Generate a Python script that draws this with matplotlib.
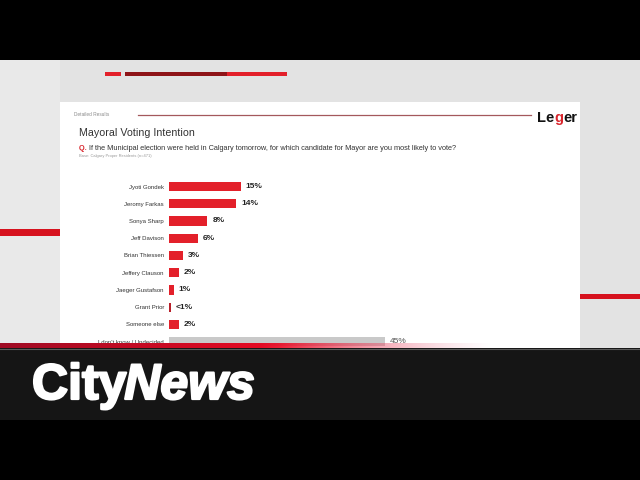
import matplotlib.pyplot as plt
from matplotlib.patches import Rectangle
import matplotlib.patheffects as pe
import numpy as np

# poll data
candidates = ['Jyoti Gondek', 'Jeromy Farkas', 'Sonya Sharp', 'Jeff Davison',
              'Brian Thiessen', 'Jeffery Clauson', 'Jaeger Gustafson',
              'Grant Prior', 'Someone else', "I don't know / Undecided"]
shares = [15, 14, 8, 6, 3, 2, 1, 0.4, 2, 45]
share_labels = ['15%', '14%', '8%', '6%', '3%', '2%', '1%', '<1%', '2%', '45%']

W, H = 640, 480
FONT = 'Liberation Sans'

fig = plt.figure(figsize=(6.4, 4.8), dpi=100, facecolor='black')


def px_axes(zorder):
    a = fig.add_axes([0, 0, 1, 1], zorder=zorder)
    a.set_xlim(0, W)
    a.set_ylim(H, 0)
    a.axis('off')
    a.patch.set_alpha(0)
    return a


def run_text(a, x, y, parts, gap=0, **kw):
    # draw consecutive text pieces on one baseline
    r = fig.canvas.get_renderer()
    for s, col, extra in parts:
        t = a.text(x, y, s, color=col, va='baseline', ha='left', **kw, **extra)
        x = t.get_window_extent(r).x1 + gap
    return x


# ---- background: studio wall + white slide
bg = px_axes(0)
bg.add_patch(Rectangle((0, 60), W, 288, color='#e3e3e3', lw=0))
bg.add_patch(Rectangle((0, 60), 60, 288, color='#e9e9e9', lw=0))
bg.add_patch(Rectangle((60, 102), 520, 246, color='white', lw=0))
# red stripes top
bg.add_patch(Rectangle((105, 72), 16, 4, color='#e3202a', lw=0))
bg.add_patch(Rectangle((125, 72), 102, 4, color='#8e1418', lw=0))
bg.add_patch(Rectangle((227, 72), 60, 4, color='#e3202a', lw=0))
# red side lines
bg.add_patch(Rectangle((0, 229), 60, 7, color='#d6121e', lw=0))
bg.add_patch(Rectangle((580, 294), 60, 5, color='#d6121e', lw=0))

# slide header
bg.text(74, 115, 'Detailed Results', fontsize=3.4, color='#8a8a8a',
        va='center', family=FONT)
bg.plot([138, 531], [115, 115], color='#a4585c', lw=0.9)
run_text(bg, 537, 122, [('Le', '#111111', {}), ('g', '#d9252c', {}),
                        ('er', '#111111', {})], gap=0,
         fontsize=10.5, fontweight='bold', family=FONT)

bg.text(79, 133, 'Mayoral Voting Intention', fontsize=7.7, color='#333333',
        va='center', family=FONT)
run_text(bg, 79, 150, [('Q. ', '#d9252c', {'fontweight': 'bold'}),
                       ('If the Municipal election were held in Calgary tomorrow, '
                        'for which candidate for Mayor are you most likely to vote?',
                        '#333333', {})],
         fontsize=5.35, family=FONT)
bg.text(79, 156, 'Base: Calgary Proper Residents (n=471)', fontsize=2.9,
        color='#999999', va='center', family=FONT)

# ---- bar chart
top_px, bot_px = 177.9, 350.3
left_px, right_px = 169, 169 + 50 * 4.8
ax = fig.add_axes([left_px / W, 1 - bot_px / H, (right_px - left_px) / W,
                   (bot_px - top_px) / H], zorder=1)
ax.patch.set_alpha(0)
ypos = np.arange(len(candidates))
colors = ['#e3202a'] * (len(candidates) - 1) + ['#c9c9c9']
colors[7] = '#b8202a'
ax.barh(ypos, shares, height=0.53, color=colors, edgecolor='none')
ax.set_xlim(0, 50)
ax.set_ylim(len(candidates) - 0.5, -0.5)
ax.set_yticks(ypos)
ax.set_yticklabels(candidates, fontsize=4.3, color='#333333', family=FONT)
ax.tick_params(axis='y', length=0, pad=3.6)
ax.set_xticks([])
for s in ax.spines.values():
    s.set_visible(False)
for i, (v, lab) in enumerate(zip(shares, share_labels)):
    last = i == len(candidates) - 1
    ax.annotate(lab, xy=(v, i), xytext=(3.5, 0), textcoords='offset points',
                va='center', ha='left', fontsize=6, family=FONT,
                fontweight='normal' if last else 'bold',
                color='#555555' if last else '#222222')

# ---- news overlay: gradient strip, lower band, logo
fg = px_axes(2)
grad = np.zeros((1, 640, 4))
xs = np.arange(640)
grad[0, :, 0] = 0.62 + 0.3 * np.clip(xs / 280, 0, 1)
grad[0, :, 1] = 0.04 + 0.5 * np.clip((xs - 280) / 200, 0, 1)
grad[0, :, 2] = 0.14 + 0.5 * np.clip((xs - 280) / 200, 0, 1)
grad[0, :, 3] = np.clip((490 - xs) / 230, 0, 1)
fg.imshow(grad, extent=[0, 640, 348, 343], aspect='auto', interpolation='bilinear')
fg.add_patch(Rectangle((0, 348), W, 72, color='#151515', lw=0))
fg.plot([0, W], [348.5, 348.5], color='#5a5a5a', lw=0.8)
fg.set_xlim(0, W)
fg.set_ylim(H, 0)
run_text(fg, 32, 399, [('City', 'white', {}),
                       ('News', 'white', {'fontstyle': 'italic'})], gap=-2,
         fontsize=36, fontweight='bold', family=FONT,
         path_effects=[pe.withStroke(linewidth=1.6, foreground='white')])

fig.savefig('out.png', dpi=100, facecolor='black')
